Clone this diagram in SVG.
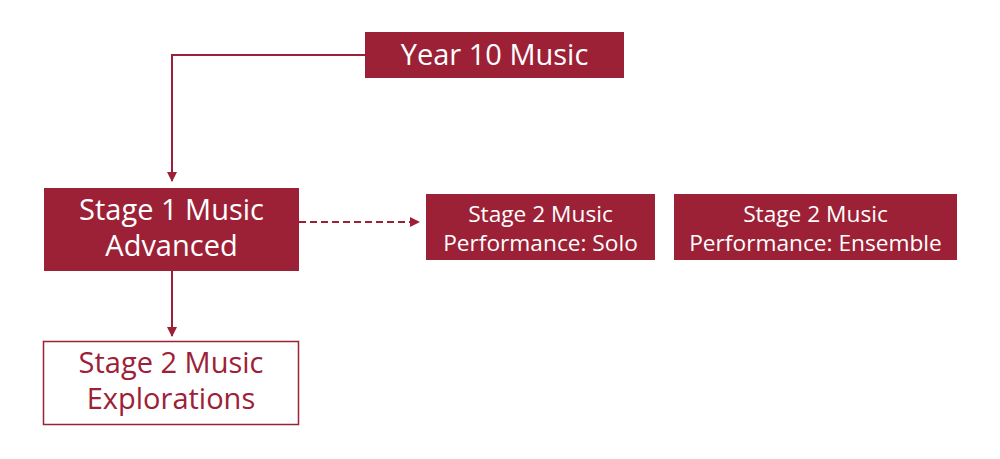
<svg xmlns="http://www.w3.org/2000/svg" width="1000" height="459" viewBox="0 0 1000 459">
<style>
.box{fill:#9d2136}
.obox{fill:#fff;stroke:#9d2136;stroke-width:1.5}
.t{font-family:"Open Sans","Liberation Sans",sans-serif;fill:#fff;text-anchor:middle}
.big{font-size:29px}
.sm{font-size:22.7px}
.red{fill:#9d2136}
.c{fill:none;stroke:#9d2136;stroke-width:2}
</style>
<defs>
<marker id="ah" markerWidth="10" markerHeight="10" refX="9" refY="5" orient="auto" markerUnits="userSpaceOnUse">
<path d="M0,0 L10,5 L0,10 Z" fill="#9d2136"/>
</marker>
</defs>
<rect width="1000" height="459" fill="#fff"/>
<g id="connectors">
<path class="c" d="M365,55 H172 V181" marker-end="url(#ah)"/>
<path class="c" d="M299,222 H419" stroke-dasharray="7,4" marker-end="url(#ah)"/>
<path class="c" d="M172,271 V336" marker-end="url(#ah)"/>
</g>
<g id="year10">
<rect class="box" x="365" y="32" width="259" height="46"/>
<text class="t big" x="494.5" y="65">Year 10 Music</text>
</g>
<g id="stage1">
<rect class="box" x="44" y="188" width="255" height="83"/>
<text class="t big" x="171.5" y="220">Stage 1 Music</text>
<text class="t big" x="171.5" y="256">Advanced</text>
</g>
<g id="solo">
<rect class="box" x="426" y="194" width="229" height="66"/>
<text class="t sm" x="540.5" y="222">Stage 2 Music</text>
<text class="t sm" x="540.5" y="251">Performance: Solo</text>
</g>
<g id="ensemble">
<rect class="box" x="674" y="194" width="283" height="66"/>
<text class="t sm" x="815.5" y="222">Stage 2 Music</text>
<text class="t sm" x="815.5" y="251">Performance: Ensemble</text>
</g>
<g id="explorations">
<rect class="obox" x="43.5" y="341.5" width="255" height="83"/>
<text class="t big red" x="171" y="373">Stage 2 Music</text>
<text class="t big red" x="171" y="409">Explorations</text>
</g>
</svg>
